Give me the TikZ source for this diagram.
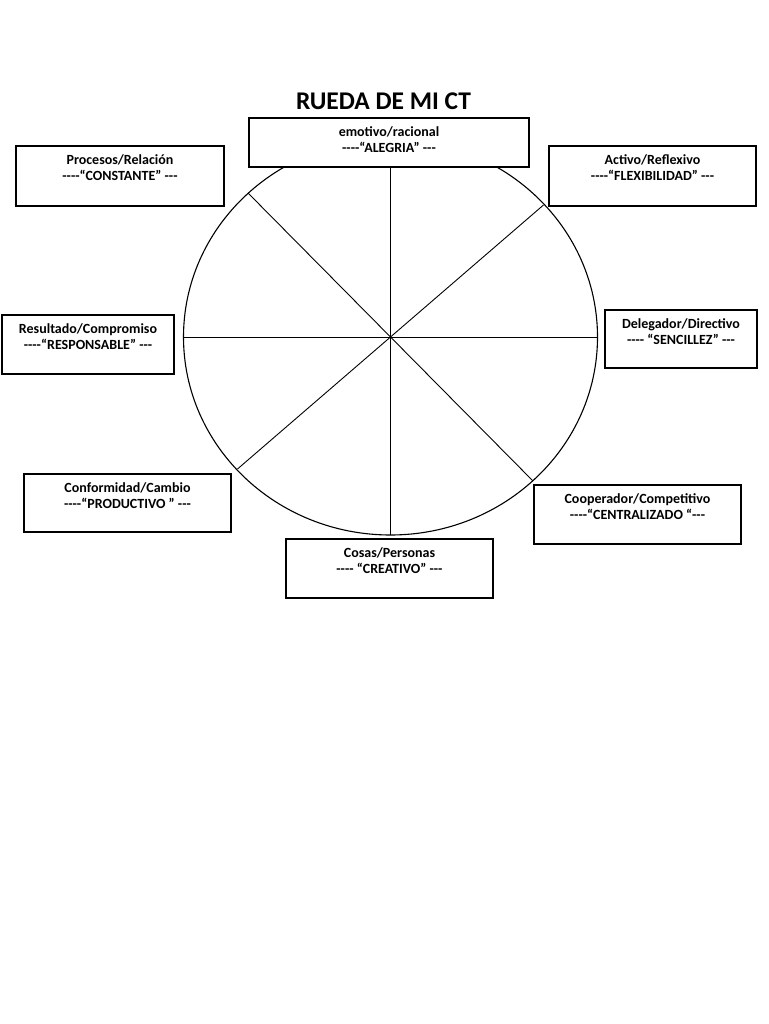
\documentclass[tikz,border=0pt]{standalone}
\usepackage{fontspec}
\setmainfont{Carlito}[Ligatures=TeXOff]
\begin{document}
\begin{tikzpicture}[x=1pt,y=-1pt,
  box/.style={draw, line width=1.1pt, fill=white, inner sep=0pt},
  lbl/.style={align=center, inner sep=0pt, font=\fontsize{14}{16}\selectfont\bfseries, yshift=-9.5pt},
  spoke/.style={line width=0.9pt}]
\useasboundingbox (0,0) rectangle (768,1024);
\fill[white] (0,0) rectangle (768,1024);
\node[font=\fontsize{25.5}{28}\selectfont\bfseries] (title) at (383.5,101.5) {RUEDA DE MI CT};
\coordinate (c) at (390.5,337);
\draw[line width=1.1pt] (c) ellipse [x radius=207, y radius=198];
\coordinate (t) at (390.5,139);
\coordinate (b) at (390.5,535);
\coordinate (l) at (183.5,337);
\coordinate (r) at (597.5,337);
\coordinate (ul) at (248,193);
\coordinate (lr) at (533,481);
\coordinate (ur) at (543.5,205);
\coordinate (ll) at (237.5,469);
\draw[spoke] (t) -- (b);
\draw[spoke] (l) -- (r);
\draw[spoke] (ul) -- (lr);
\draw[spoke] (ur) -- (ll);
\node[box, minimum width=280pt, minimum height=49pt,
  label={[lbl,anchor=north]north:{emotivo/racional\\----“ALEGRIA” ---}}] (n1) at (389,142.5) {};
\node[box, minimum width=208pt, minimum height=60pt,
  label={[lbl,anchor=north]north:{Procesos/Relación\\----“CONSTANTE” ---}}] (n2) at (120,176) {};
\node[box, minimum width=207pt, minimum height=60pt,
  label={[lbl,anchor=north]north:{Activo/Reflexivo\\----“FLEXIBILIDAD” ---}}] (n3) at (652.5,176) {};
\node[box, minimum width=172pt, minimum height=59pt,
  label={[lbl,anchor=north]north:{Resultado/Compromiso\\----“RESPONSABLE” ---}}] (n4) at (88,344.5) {};
\node[box, minimum width=152pt, minimum height=58pt,
  label={[lbl,anchor=north]north:{Delegador/Directivo\\---- “SENCILLEZ” ---}}] (n5) at (681,339) {};
\node[box, minimum width=207pt, minimum height=58pt,
  label={[lbl,anchor=north]north:{Conformidad/Cambio\\----“PRODUCTIVO ” ---}}] (n6) at (127.5,503) {};
\node[box, minimum width=207pt, minimum height=59pt,
  label={[lbl,anchor=north]north:{Cooperador/Competitivo\\----“CENTRALIZADO “---}}] (n7) at (637.5,514.5) {};
\node[box, minimum width=207pt, minimum height=59pt,
  label={[lbl,anchor=north]north:{Cosas/Personas\\---- “CREATIVO” ---}}] (n8) at (389.5,568.5) {};
\end{tikzpicture}
\end{document}
